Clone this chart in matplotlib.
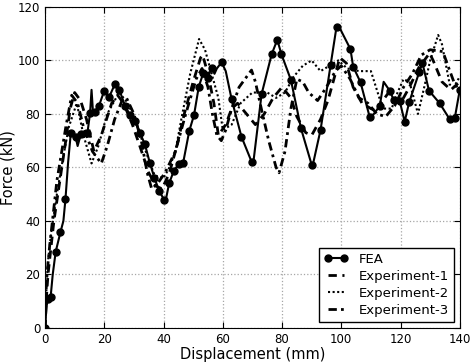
import matplotlib
matplotlib.use("Agg")
import matplotlib.pyplot as plt

# FEA (solid line with circle markers)
fea_x = [0, 0.5, 1.0, 1.9, 2.6, 3.6, 5.2, 6.2, 6.9, 7.8, 8.7, 10.3, 11.0, 12.1, 14.3,
         15.2, 15.7, 16.2, 16.8, 18.2, 20.0, 21.6, 23.6, 25.1, 27.0, 28.7, 30.4, 32.0,
         33.7, 35.4, 36.9, 38.5, 40.2, 40.6, 41.9, 43.5, 45.2, 46.6, 48.7, 50.3, 51.9,
         53.4, 54.9, 56.2, 57.2, 58.0, 59.6, 61.0, 63.0, 66.3, 69.7, 70.3, 73.1, 76.5,
         78.4, 79.8, 83.0, 86.4, 90.0, 90.3, 93.0, 96.4, 98.4, 99.8, 103.1, 104.0,
         106.5, 109.6, 111.0, 113.0, 114.3, 116.4, 117.7, 119.7, 121.4, 122.9, 126.3,
         127.4, 129.6, 133.2, 136.6, 138.3, 140.0]
fea_y = [0, 8, 11, 11.7, 20, 28.5, 35.8, 40, 48.2, 62, 72.8, 71.5, 68, 72.5, 72.8,
         80.3, 89, 80.5, 80.9, 83, 88.7, 86.2, 91.2, 89, 83, 79.6, 77.5, 73,
         68.7, 61.6, 56.2, 51.3, 47.9, 47.0, 54.1, 58.8, 61.3, 61.6, 73.7, 79.6, 90.2,
         95.2, 93.3, 97.3, 95, 97, 99.3, 96, 85.4, 71.5, 62.2, 61.7, 87.4, 102.3,
         107.7, 102.3, 92.7, 74.6, 61, 60.5, 74, 98.3, 112.6, 111.4, 104.2, 97.7,
         91.8, 78.8, 80, 83, 92, 88.6, 85.2, 84.9, 77.1, 84.3, 95.6,
         99, 88.7, 84, 78, 78.4, 89]
fea_nomark = [1, 4, 7, 9, 12, 16, 17, 33, 44, 45, 47, 51, 59, 63, 68, 70]

# Experiment-1 (dashed)
exp1_x = [0, 0.5, 1, 2, 3, 5, 7, 8.5, 10, 12, 14, 16.5, 19, 22.5, 24.5, 26.5, 29.5, 32,
          35, 37.5, 39.5, 42, 44.5, 47, 50, 52.5, 53.2, 55, 57, 58.5, 61, 63, 65, 68,
          71, 74, 77, 80, 83, 85, 88, 90, 93, 95.5, 98, 99.5, 101.7, 104, 107, 110,
          112, 114, 116, 118, 120, 123, 126, 129.8, 131, 134, 137, 140]
exp1_y = [0, 12, 20, 30, 40, 55, 70, 82, 88, 85, 78, 66, 72, 84, 87, 84, 76, 68,
          58, 53, 52, 58, 68, 80, 92, 101, 102, 95, 84, 72, 76, 82, 84, 80,
          76, 80, 86, 90, 86, 79, 73, 72, 78, 85, 95, 101, 99, 90, 84, 82,
          81, 85, 88, 85, 84, 90, 97, 102.7, 100, 92, 89, 92]

# Experiment-2 (dotted)
exp2_x = [0, 0.5, 1, 2, 4, 6, 8, 10.7, 13, 15.7, 18, 21, 25, 28, 31, 34, 37, 40, 42,
          44, 46, 49, 52, 54, 56, 58.5, 60, 63, 66, 70, 75, 78, 81, 84, 87, 90, 93,
          96, 99, 102, 106, 110, 112, 114, 117, 119, 121, 123, 125.9, 128, 130, 132.7,
          134, 136.6, 138, 140]
exp2_y = [0, 15, 25, 35, 50, 63, 75, 84, 72, 61.5, 68, 80, 88, 84, 76, 66, 57, 56,
          60, 66, 78, 95, 108, 104, 96, 86, 74, 76, 84, 88, 88, 86, 88, 94, 98, 100,
          96, 98, 100, 97, 96, 96, 89, 82, 82, 88, 93, 92, 80, 90, 100, 109.5,
          106, 91, 90, 94]

# Experiment-3 (dash-dot)
exp3_x = [0, 0.5, 1.5, 4, 7, 9, 11, 13, 16, 19, 21, 23.5, 26, 27.5, 30, 32.5, 34.5,
          36, 38, 40.5, 44, 47.5, 51, 53, 55, 56.5, 58, 59.5, 61, 63, 65.5, 69.7, 71,
          73, 75.5, 78, 79, 81, 83, 85, 87, 89, 92, 95, 98, 100, 103, 106, 109, 112,
          115, 118, 121, 124, 127, 130, 134.3, 136, 138, 140]
exp3_y = [0, 18, 30, 55, 75, 87, 84, 75, 66, 61.5, 68, 78, 85, 86, 80, 70, 58,
          52, 54, 58, 66, 80, 93, 97, 90, 80, 72, 70, 74, 82, 90, 96.4, 92,
          82, 70, 60, 58, 66, 82, 93, 92, 88, 85, 90, 96, 98, 93, 86, 84, 80,
          79, 83, 90, 95, 102, 104, 103.3, 98, 92, 88]

fig = plt.figure(figsize=(4.74, 3.64), dpi=100)
ax = fig.add_axes([0.095, 0.099, 0.875, 0.882])

ax.plot(fea_x, fea_y, color="black", lw=1.5, marker="o", markersize=5,
        markevery=[i for i in range(len(fea_x)) if i not in fea_nomark], label="FEA")
ax.plot(exp1_x, exp1_y, color="black", lw=2, linestyle=(0, (3, 2)), label="Experiment-1")
ax.plot(exp2_x, exp2_y, color="black", lw=1.5, linestyle=(0, (1, 1.2)), label="Experiment-2")
ax.plot(exp3_x, exp3_y, color="black", lw=2, linestyle=(0, (3, 1.5, 1, 1.5)), label="Experiment-3")

ax.set_xlim(0, 140)
ax.set_ylim(0, 120)
ax.set_xticks(range(0, 141, 20))
ax.set_yticks(range(0, 121, 20))
ax.tick_params(direction="in", top=True, right=True, labelsize=8.5, length=4)
ax.grid(True, linestyle=":", color="0.65", lw=0.9)
ax.set_xlabel("Displacement (mm)", fontsize=10.5, labelpad=1)
ax.set_ylabel("Force (kN)", fontsize=10.5, labelpad=2)

leg = ax.legend(loc="lower right", fontsize=9.5, numpoints=2, fancybox=False,
                handlelength=1.8, labelspacing=0.3, framealpha=1, borderaxespad=0.45)
leg.get_frame().set_edgecolor("black")
leg.get_frame().set_linewidth(1.0)

fig.savefig("out.png", dpi=100)
